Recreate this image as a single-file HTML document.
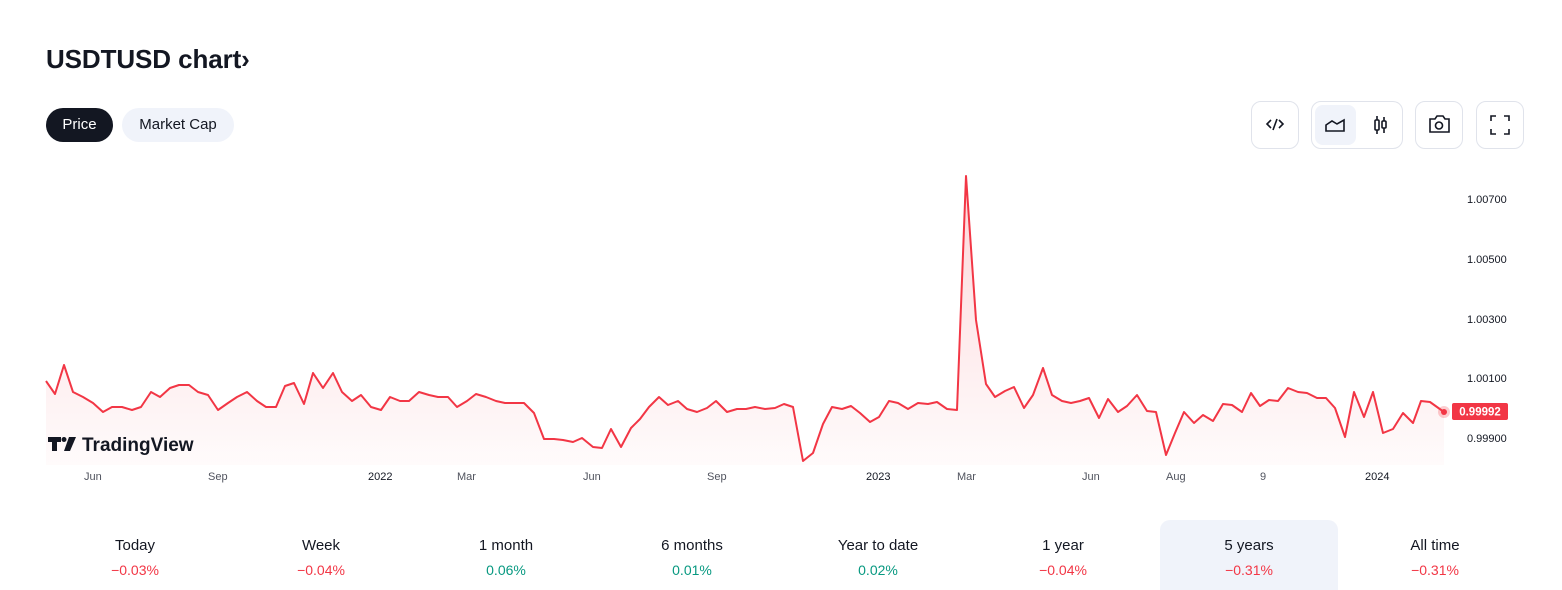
<!DOCTYPE html>
<html><head><meta charset="utf-8"><style>
*{margin:0;padding:0;box-sizing:border-box}
body{width:1562px;height:587px;background:#fff;font-family:"Liberation Sans",sans-serif;color:#131722;position:relative;overflow:hidden}
.a{position:absolute}
.t{left:46px;top:44px;font-size:26px;font-weight:bold;letter-spacing:-0.1px}
.pill{top:108px;height:34px;border-radius:17px;font-size:15px;line-height:34px;text-align:center}
.btn{top:101px;height:48px;border:1px solid #e0e3eb;border-radius:10px;background:#fff}
.yl{left:1467px;font-size:11px;color:#131722}
.xl{top:471px;font-size:11px;color:#50535e}
.st{width:186px;text-align:center;font-size:15px}
.st .v{font-size:14px;margin-top:8px}
.r{color:#f23645}.g{color:#089981}
</style></head><body>
<div class="a t">USDTUSD chart›</div>
<div class="a pill" style="left:46px;width:67px;background:#131722;color:#fff">Price</div>
<div class="a pill" style="left:122px;width:112px;background:#f0f3fa;color:#131722">Market Cap</div>
<div class="a btn" style="left:1251px;width:48px"></div>
<div class="a btn" style="left:1311px;width:92px"></div>
<div class="a" style="left:1315px;top:105px;width:41px;height:40px;background:#f0f3fa;border-radius:8px"></div>
<div class="a btn" style="left:1415px;width:48px"></div>
<div class="a btn" style="left:1476px;width:48px"></div>
<svg class="a" style="left:0;top:0" width="1562" height="587">
<g fill="none" stroke="#131722" stroke-width="1.6">
<path d="M1271 120l-4 4 4 4M1279 120l4 4-4 4M1277 119l-4 11"/>
<path d="M1326 131v-6l6-4 5 3 7-4v11z"/>
<path d="M1377 116v18M1384 117v16"/>
<rect x="1375" y="120" width="4" height="10" rx="1" fill="#fff"/><rect x="1382" y="121" width="4" height="7" rx="1" fill="#fff"/>
<path d="M1430 119h5l2-3h6l2 3h4v13h-19z"/><circle cx="1439" cy="125.5" r="3.5"/>
<path d="M1491 121v-5h5M1504 116h5v5M1509 129v5h-5M1496 134h-5v-5"/>
</g>
<defs><linearGradient id="gr" x1="0" y1="0" x2="0" y2="1"><stop offset="0" stop-color="#f23645" stop-opacity="0.2"/><stop offset="1" stop-color="#f23645" stop-opacity="0.02"/></linearGradient></defs>
<path fill="url(#gr)" d="M46 381L55 394L64 365L73 392L83 397L93 403L103 412L112 407L122 407L132 410L141 407L151 392L160 397L170 388L179 385L189 385L198 392L208 395L218 410L228 403L237 397L247 392L257 401L266 407L276 407L285 386L294 383L304 404L313 373L323 388L333 373L342 392L352 401L361 395L371 407L381 410L390 397L400 401L409 401L419 392L429 395L438 397L448 397L457 407L467 401L476 394L486 397L496 401L505 403L515 403L524 403L534 413L544 439L554 439L563 440L573 442L582 438L593 447L602 448L611 429L621 447L631 428L640 419L649 407L659 397L668 405L678 401L687 409L697 412L707 408L716 401L727 412L737 409L746 409L755 407L765 409L775 408L784 404L793 407L803 461L813 453L823 424L832 407L842 409L851 406L860 413L870 422L879 417L889 401L898 403L908 409L918 403L928 404L937 402L947 409L957 410L966 176L976 320L986 384L995 397L1005 391L1014 387L1024 408L1033 395L1043 368L1052 395L1062 401L1071 403L1080 401L1089 398L1099 418L1108 399L1118 412L1127 406L1137 395L1147 411L1156 412L1166 455L1175 433L1184 412L1194 423L1203 415L1213 421L1223 404L1232 405L1242 412L1251 393L1260 406L1269 400L1278 401L1288 388L1298 392L1307 393L1317 398L1326 398L1335 408L1345 437L1354 392L1364 417L1373 392L1383 433L1393 429L1403 413L1413 423L1421 401L1430 402L1444 412L1444 465L46 465Z"/>
<path fill="none" stroke="#f23645" stroke-width="2" stroke-linejoin="round" d="M46 381L55 394L64 365L73 392L83 397L93 403L103 412L112 407L122 407L132 410L141 407L151 392L160 397L170 388L179 385L189 385L198 392L208 395L218 410L228 403L237 397L247 392L257 401L266 407L276 407L285 386L294 383L304 404L313 373L323 388L333 373L342 392L352 401L361 395L371 407L381 410L390 397L400 401L409 401L419 392L429 395L438 397L448 397L457 407L467 401L476 394L486 397L496 401L505 403L515 403L524 403L534 413L544 439L554 439L563 440L573 442L582 438L593 447L602 448L611 429L621 447L631 428L640 419L649 407L659 397L668 405L678 401L687 409L697 412L707 408L716 401L727 412L737 409L746 409L755 407L765 409L775 408L784 404L793 407L803 461L813 453L823 424L832 407L842 409L851 406L860 413L870 422L879 417L889 401L898 403L908 409L918 403L928 404L937 402L947 409L957 410L966 176L976 320L986 384L995 397L1005 391L1014 387L1024 408L1033 395L1043 368L1052 395L1062 401L1071 403L1080 401L1089 398L1099 418L1108 399L1118 412L1127 406L1137 395L1147 411L1156 412L1166 455L1175 433L1184 412L1194 423L1203 415L1213 421L1223 404L1232 405L1242 412L1251 393L1260 406L1269 400L1278 401L1288 388L1298 392L1307 393L1317 398L1326 398L1335 408L1345 437L1354 392L1364 417L1373 392L1383 433L1393 429L1403 413L1413 423L1421 401L1430 402L1444 412"/>
<circle cx="1444" cy="412" r="6" fill="#f23645" fill-opacity="0.25"/><circle cx="1444" cy="412" r="3" fill="#f23645"/>
<rect x="1452" y="403" width="56" height="17" rx="2" fill="#f23645"/>
<text x="1480" y="415.5" font-size="11.5" font-weight="bold" fill="#fff" text-anchor="middle" font-family="Liberation Sans">0.99992</text>
<g fill="#131722"><path d="M48 437h13v5h-4v9h-5v-9h-4z"/><circle cx="64" cy="439.5" r="2.5"/><path d="M69 437h7l-6 14h-6z"/></g>
<text x="82" y="451" font-size="19" font-weight="bold" fill="#131722" font-family="Liberation Sans">TradingView</text>
</svg>
<div class="a yl" style="top:194px">1.00700</div>
<div class="a yl" style="top:254px">1.00500</div>
<div class="a yl" style="top:314px">1.00300</div>
<div class="a yl" style="top:373px">1.00100</div>
<div class="a yl" style="top:433px">0.99900</div>
<div class="a xl" style="left:84px">Jun</div>
<div class="a xl" style="left:208px">Sep</div>
<div class="a xl" style="left:368px;color:#131722">2022</div>
<div class="a xl" style="left:457px">Mar</div>
<div class="a xl" style="left:583px">Jun</div>
<div class="a xl" style="left:707px">Sep</div>
<div class="a xl" style="left:866px;color:#131722">2023</div>
<div class="a xl" style="left:957px">Mar</div>
<div class="a xl" style="left:1082px">Jun</div>
<div class="a xl" style="left:1166px">Aug</div>
<div class="a xl" style="left:1260px">9</div>
<div class="a xl" style="left:1365px;color:#131722">2024</div>
<div class="a" style="left:1160px;top:520px;width:178px;height:70px;background:#f0f3fa;border-radius:10px 10px 0 0"></div>
<div class="a st" style="left:42px;top:537px">Today<div class="v r">−0.03%</div></div>
<div class="a st" style="left:228px;top:537px">Week<div class="v r">−0.04%</div></div>
<div class="a st" style="left:413px;top:537px">1 month<div class="v g">0.06%</div></div>
<div class="a st" style="left:599px;top:537px">6 months<div class="v g">0.01%</div></div>
<div class="a st" style="left:785px;top:537px">Year to date<div class="v g">0.02%</div></div>
<div class="a st" style="left:970px;top:537px">1 year<div class="v r">−0.04%</div></div>
<div class="a st" style="left:1156px;top:537px">5 years<div class="v r">−0.31%</div></div>
<div class="a st" style="left:1342px;top:537px">All time<div class="v r">−0.31%</div></div>
</body></html>
